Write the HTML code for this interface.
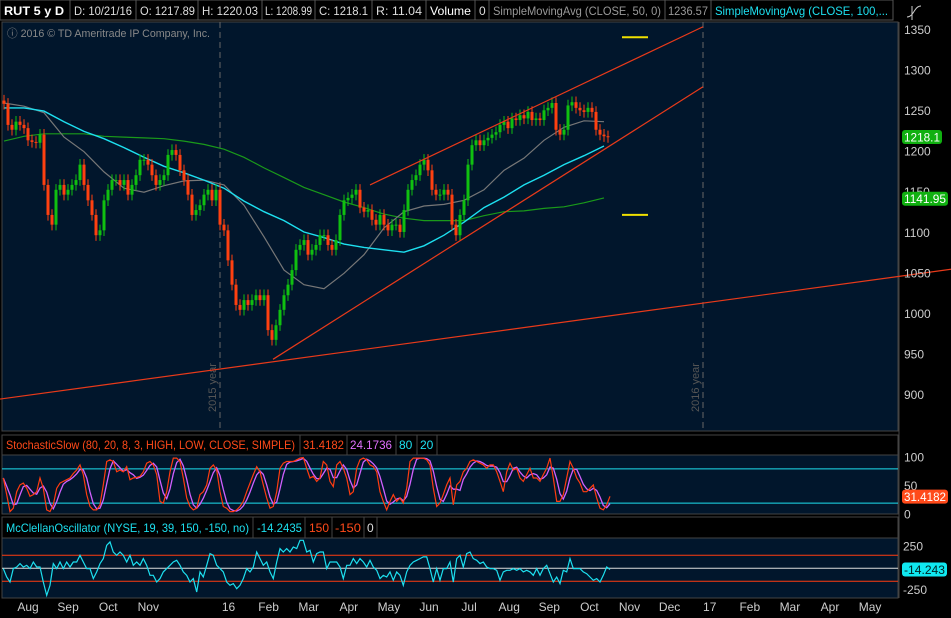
<!DOCTYPE html>
<html><head><meta charset="utf-8"><style>
html,body{margin:0;padding:0;background:#000;}
svg{display:block;font-family:"Liberation Sans Narrow","Liberation Sans",sans-serif;}
</style></head><body>
<svg id="chart" width="951" height="618" viewBox="0 0 951 618" xmlns="http://www.w3.org/2000/svg">
<rect x="0" y="0" width="951" height="618" fill="#000"/>
<g font-size="12">
<rect x="0" y="0" width="893" height="20" fill="#000" stroke="#555" stroke-width="1"/>
<text x="4" y="15" fill="#fff" font-weight="bold" textLength="60" lengthAdjust="spacingAndGlyphs">RUT 5 y D</text>
<line x1="70" y1="0" x2="70" y2="20" stroke="#555"/><text x="74" y="15" fill="#ddd" textLength="58" lengthAdjust="spacingAndGlyphs">D: 10/21/16</text>
<line x1="136" y1="0" x2="136" y2="20" stroke="#555"/><text x="140" y="15" fill="#ddd" textLength="55" lengthAdjust="spacingAndGlyphs">O: 1217.89</text>
<line x1="198" y1="0" x2="198" y2="20" stroke="#555"/><text x="202" y="15" fill="#ddd" textLength="56" lengthAdjust="spacingAndGlyphs">H: 1220.03</text>
<line x1="262" y1="0" x2="262" y2="20" stroke="#555"/><text x="265" y="15" fill="#ddd" textLength="47" lengthAdjust="spacingAndGlyphs">L: 1208.99</text>
<line x1="315" y1="0" x2="315" y2="20" stroke="#555"/><text x="319" y="15" fill="#ddd" textLength="49" lengthAdjust="spacingAndGlyphs">C: 1218.1</text>
<line x1="372" y1="0" x2="372" y2="20" stroke="#555"/><text x="376" y="15" fill="#ddd" textLength="46" lengthAdjust="spacingAndGlyphs">R: 11.04</text>
<line x1="426" y1="0" x2="426" y2="20" stroke="#555"/><text x="430" y="15" fill="#fff" textLength="41" lengthAdjust="spacingAndGlyphs">Volume</text>
<line x1="475" y1="0" x2="475" y2="20" stroke="#555"/><text x="479" y="15" fill="#ddd">0</text>
<line x1="489" y1="0" x2="489" y2="20" stroke="#555"/><text x="493" y="15" fill="#999" textLength="168" lengthAdjust="spacingAndGlyphs">SimpleMovingAvg (CLOSE, 50, 0)</text>
<line x1="665" y1="0" x2="665" y2="20" stroke="#555"/><text x="668" y="15" fill="#999" textLength="40" lengthAdjust="spacingAndGlyphs">1236.57</text>
<line x1="711" y1="0" x2="711" y2="20" stroke="#555"/><text x="715" y="15" fill="#1de0f0" textLength="173" lengthAdjust="spacingAndGlyphs">SimpleMovingAvg (CLOSE, 100,...</text>
<path d="M912 20 L912 6 M907 17 C914 17 914 6 921 6" stroke="#ccc" fill="none"/>
</g>
<rect x="2" y="22" width="896" height="409" fill="#01162c" stroke="#444"/>
<text x="7" y="37" fill="#888" font-size="11" textLength="203" lengthAdjust="spacingAndGlyphs">ⓘ 2016 © TD Ameritrade IP Company, Inc.</text>
<rect x="2" y="435" width="896" height="20" fill="#000" stroke="#444"/>
<rect x="2" y="455" width="896" height="59" fill="#01162c" stroke="#444"/>
<rect x="2" y="517" width="896" height="21" fill="#000" stroke="#444"/>
<rect x="2" y="538" width="896" height="60" fill="#01162c" stroke="#444"/>
<line x1="899" y1="22" x2="899" y2="598" stroke="#444"/>
<g font-size="12">
<text x="6" y="449" fill="#ff4a1a" textLength="289" lengthAdjust="spacingAndGlyphs">StochasticSlow (80, 20, 8, 3, HIGH, LOW, CLOSE, SIMPLE)</text>
<line x1="300" y1="435" x2="300" y2="455" stroke="#444"/><text x="303" y="449" fill="#ff4a1a" textLength="41" lengthAdjust="spacingAndGlyphs">31.4182</text>
<line x1="347" y1="435" x2="347" y2="455" stroke="#444"/><text x="350" y="449" fill="#e070ff" textLength="42" lengthAdjust="spacingAndGlyphs">24.1736</text>
<line x1="396" y1="435" x2="396" y2="455" stroke="#444"/><text x="399" y="449" fill="#1de0f0">80</text>
<line x1="417" y1="435" x2="417" y2="455" stroke="#444"/><text x="420" y="449" fill="#1de0f0">20</text>
<line x1="437" y1="435" x2="437" y2="455" stroke="#444"/>
</g>
<g font-size="12">
<text x="6" y="532" fill="#1de0f0" textLength="243" lengthAdjust="spacingAndGlyphs">McClellanOscillator (NYSE, 19, 39, 150, -150, no)</text>
<line x1="253" y1="517" x2="253" y2="538" stroke="#444"/><text x="257" y="532" fill="#1de0f0" textLength="45" lengthAdjust="spacingAndGlyphs">-14.2435</text>
<line x1="305" y1="517" x2="305" y2="538" stroke="#444"/><text x="309" y="532" fill="#ff4a1a">150</text>
<line x1="332" y1="517" x2="332" y2="538" stroke="#444"/><text x="335" y="532" fill="#ff4a1a" textLength="26" lengthAdjust="spacingAndGlyphs">-150</text>
<line x1="364" y1="517" x2="364" y2="538" stroke="#444"/><text x="367" y="532" fill="#ddd">0</text>
<line x1="377" y1="517" x2="377" y2="538" stroke="#444"/>
</g>
<line x1="220" y1="22" x2="220" y2="431" stroke="#666" stroke-dasharray="6,4"/>
<text transform="translate(216,412) rotate(-90)" fill="#555" font-size="11">2015 year</text>
<line x1="703" y1="22" x2="703" y2="431" stroke="#666" stroke-dasharray="6,4"/>
<text transform="translate(699,412) rotate(-90)" fill="#555" font-size="11">2016 year</text>
<g id="marks"></g>
<g id="axes" font-size="12"></g>
</svg>
<script>
const closes=[1259,1233,1227,1237,1233,1229,1214,1212,1211,1221,1159,1122,1110,1153,1159,1147,1153,1159,1165,1184,1159,1140,1122,1097,1103,1140,1153,1165,1165,1159,1165,1147,1159,1171,1190,1190,1184,1171,1159,1165,1171,1196,1202,1196,1177,1165,1147,1122,1128,1134,1147,1153,1140,1153,1110,1103,1066,1036,1011,1005,1017,1011,1017,1023,1017,1023,980,968,986,1005,1023,1036,1054,1079,1085,1091,1073,1079,1085,1097,1097,1085,1079,1091,1122,1140,1143,1147,1153,1131,1126,1128,1116,1110,1122,1110,1103,1110,1110,1101,1128,1153,1165,1171,1184,1190,1177,1153,1147,1147,1153,1147,1110,1097,1122,1140,1184,1208,1214,1208,1214,1217,1221,1224,1233,1237,1229,1241,1239,1245,1241,1249,1239,1241,1239,1251,1254,1260,1227,1221,1227,1257,1261,1254,1251,1249,1254,1249,1227,1221,1219,1218];
const sma50=[1260,1256,1248,1218,1200,1175,1155,1150,1158,1164,1165,1159,1134,1095,1054,1036,1031,1050,1073,1106,1126,1133,1135,1140,1153,1177,1192,1214,1230,1238,1237];
const sma100=[1254,1254,1250,1237,1225,1216,1205,1193,1182,1174,1165,1155,1139,1126,1115,1101,1094,1086,1082,1079,1076,1084,1097,1113,1131,1144,1159,1171,1184,1195,1207];
const sma200=[1213,1219,1222,1222,1222,1219,1218,1217,1216,1213,1209,1203,1193,1180,1168,1156,1147,1138,1131,1123,1118,1115,1115,1115,1121,1126,1127,1130,1132,1137,1143];
const stochK=[64,35,5,11,40,52,55,46,32,35,40,64,46,8,5,17,46,55,58,61,64,72,78,87,70,35,14,8,8,17,52,93,96,93,75,78,75,84,61,64,65,67,75,90,93,87,70,23,20,40,75,99,99,93,64,29,14,8,11,35,40,52,81,87,78,40,14,11,5,5,8,14,23,40,55,70,84,75,52,29,11,14,40,81,90,93,93,93,96,99,100,81,64,67,58,64,
93,87,58,49,87,93,81,64,35,40,81,96,99,96,87,84,75,40,23,8,23,35,23,29,20,46,93,99,99,99,99,96,87,46,14,20,35,52,64,17,52,58,75,81,93,96,93,90,87,81,87,87,75,58,40,75,90,78,81,64,58,70,81,64,64,58,70,81,99,64,23,23,35,64,93,81,64,55,40,40,46,52,29,11,8,17,32];
const mcclellan=[-4,-100,-158,-4,15,54,15,35,-4,73,15,15,-158,-312,-196,54,-4,73,-4,73,15,73,73,150,73,-4,-4,-119,-42,54,112,265,304,188,150,188,150,73,150,35,73,35,112,35,-81,-81,-158,-119,-42,-4,35,73,92,35,-42,-81,-158,-119,-273,-42,-100,35,169,150,35,-4,-42,-158,-196,-177,-235,-196,-119,-4,-42,15,188,112,35,73,-42,-119,73,227,188,227,188,246,227,323,323,188,208,73,169,188,
188,-4,73,73,73,15,-119,35,35,112,54,112,73,15,92,15,-23,-119,-81,-100,-42,-138,-42,-81,-196,-42,35,73,92,112,131,131,-4,-158,-4,-138,-4,-4,73,-158,112,150,15,169,188,112,92,54,73,15,-4,-4,-23,-138,-42,-23,-23,-4,-23,-4,-42,-23,-42,-81,-4,-81,-4,35,-62,-158,-100,-177,-23,-42,112,-4,-4,-4,-42,-62,-100,-138,-119,-158,-81,15,-14];
const priceTicks=[1350,1300,1250,1200,1150,1100,1050,1000,950,900];
const stochTicks=[100,50,0];
const mccTicks=[250,-250];
const monthLabels=["Aug","Sep","Oct","Nov","","16","Feb","Mar","Apr","May","Jun","Jul","Aug","Sep","Oct","Nov","Dec","17","Feb","Mar","Apr","May"];
const trendLines=[[-1,895,236.75,1055],[67.25,944,174.75,1280],[91.5,1159,174.75,1354]];
const yellowMarks=[[154.5,161,1341],[154.5,161,1122]];

const NS="http://www.w3.org/2000/svg";
const marks=document.getElementById('marks'), axes=document.getElementById('axes');
const xB=i=>4+i*4;
const yP=p=>30+(1350-p)*0.8111;
const yS=v=>514.5-v*0.57;
const yM=v=>568.3-v*0.0867;
function mk(tag,attrs,parent){const e=document.createElementNS(NS,tag);for(const k in attrs)e.setAttribute(k,attrs[k]);(parent||marks).appendChild(e);return e;}
function poly(pts,color,w,name){const e=mk('polyline',{points:pts.map(p=>p[0].toFixed(1)+','+p[1].toFixed(1)).join(' '),fill:'none',stroke:color,'stroke-width':w});return e;}

[[80,'#1de0f0'],[20,'#1de0f0']].forEach(([v,c])=>{const l=mk('line',{x1:2,x2:898,y1:yS(v),y2:yS(v),stroke:c,'stroke-width':1});});
[[150,'#ff3c10'],[0,'#ddd'],[-150,'#ff3c10']].forEach(([v,c])=>{const l=mk('line',{x1:2,x2:898,y1:yM(v),y2:yM(v),stroke:c,'stroke-width':1});});

poly(sma200.map((v,i)=>[xB(i*5),yP(v)]),'#1a9a1a',1.2,'sma200-line');
poly(sma50.map((v,i)=>[xB(i*5),yP(v)]),'#777',1.2,'sma50-line');
poly(sma100.map((v,i)=>[xB(i*5),yP(v)]),'#1de0f0',1.4,'sma100-line');

closes.forEach((c,i)=>{
  const o=i>0?closes[i-1]:c+4;
  const up=c>=o;
  const col=up?'#10c010':'#ff4010';
  const hi=Math.max(o,c)+7, lo=Math.min(o,c)-7;
  const x=xB(i);
  const w=mk('line',{x1:x,x2:x,y1:yP(hi),y2:yP(lo),stroke:col,'stroke-width':1});
  
  
  const top=yP(Math.max(o,c)), h=Math.max(1,yP(Math.min(o,c))-top);
  const b=mk('rect',{x:x-1.5,y:top,width:3,height:h,fill:col});
  
  
});

trendLines.forEach(t=>{const l=mk('line',{x1:xB(t[0]),y1:yP(t[1]),x2:xB(t[2]),y2:yP(t[3]),stroke:'#e83a1a','stroke-width':1.2});
  
  });
yellowMarks.forEach(t=>{const l=mk('line',{x1:xB(t[0]),x2:xB(t[1]),y1:yP(t[2]),y2:yP(t[2]),stroke:'#f0e000','stroke-width':2});
  
  });

const kStep=610/stochK.length, mStep=610/mcclellan.length;
const stochD=stochK.map((v,i)=>{const a=stochK.slice(Math.max(0,i-2),i+1);return a.reduce((s,x)=>s+x,0)/a.length;});
poly(stochD.map((v,i)=>[(i+1)*kStep,yS(v)]),'#d060ff',1.3,'stoch-d-line');
poly(stochK.map((v,i)=>[(i+1)*kStep,yS(v)]),'#ff3c10',1.2,'stoch-k-line');
poly(mcclellan.map((v,i)=>[(i+1)*mStep,yM(v)]),'#1de0f0',1.2,'mcclellan-line');

function txt(x,y,s,fill,name,anchor){const t=mk('text',{x:x,y:y,fill:fill,'text-anchor':anchor||'start'},axes);t.textContent=s;return t;}
priceTicks.forEach(p=>txt(904,yP(p)+4,String(p),'#ccc','price-tick'));
stochTicks.forEach(v=>txt(904,yS(v)+4,String(v),'#ccc','stoch-tick'));
mccTicks.forEach(v=>txt(903,yM(v)+4,String(v),'#ccc','mcclellan-tick'));
monthLabels.forEach((m,k)=>{if(m)txt(28+k*40.1,611,m,'#ccc','month-label','middle');});
function badge(y,w,label,bg,fg,name){const r=mk('rect',{x:902,y:y-7,width:w,height:14,rx:3,fill:bg},axes);const t=txt(904,y+4.5,label,fg,name+'-text');t.setAttribute('textLength',w-4);t.setAttribute('lengthAdjust','spacingAndGlyphs');}
badge(yP(1218.1),40,'1218.1','#10b010','#fff','last-price-badge');
badge(yP(1141.95),46,'1141.95','#10b010','#fff','sma200-badge');
badge(yS(31.4182),46,'31.4182','#ff4a1a','#fff','stoch-badge');
badge(yM(-14.2435),45,'-14.243','#10e8f0','#022','mcclellan-badge');
</script>
</body></html>
